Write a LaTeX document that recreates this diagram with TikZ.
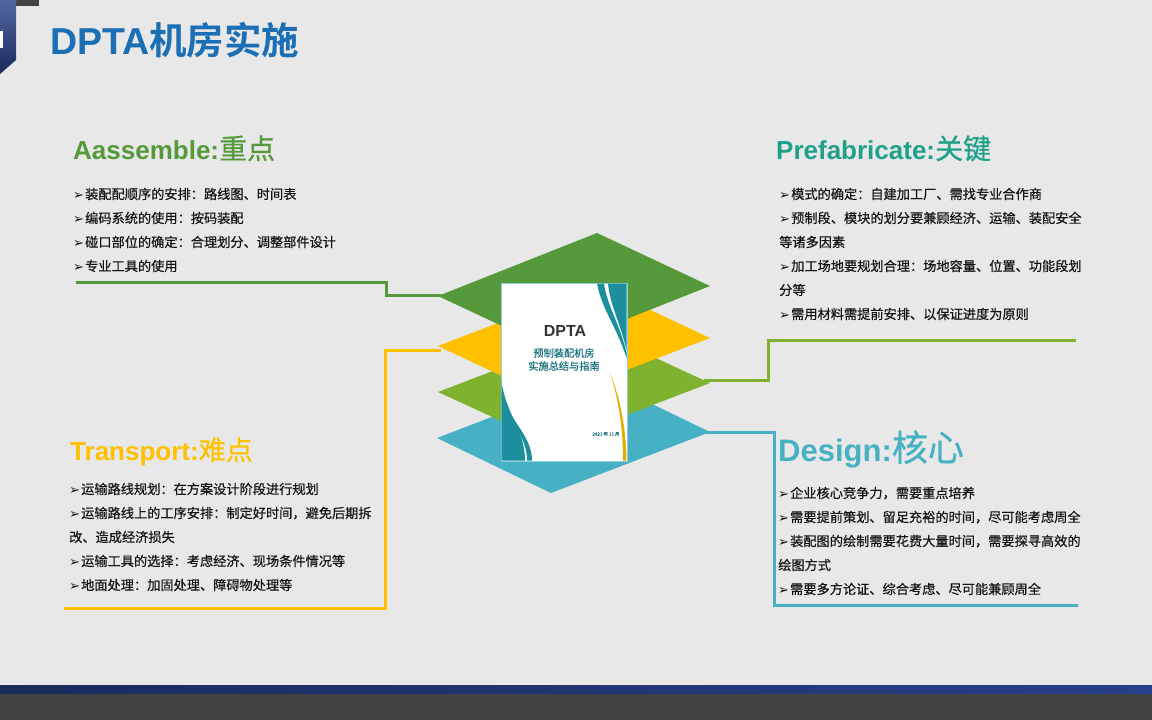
\documentclass[tikz,border=0pt]{standalone}
\usepackage{fontspec}
\usepackage{xcolor}
\setmainfont{Noto Sans CJK SC}[FakeBold=0.5]
\newfontfamily\headcjk{Noto Sans CJK SC}[FakeBold=0.6]
\newfontfamily\cjkbold{Noto Sans CJK SC}[BoldFont={Noto Sans CJK SC Bold}]
\newfontfamily\latinbold{Liberation Sans Bold}
\newfontfamily\symfont{DejaVu Sans}
\definecolor{pagegray}{HTML}{E8E8E8}
\definecolor{barblue}{HTML}{27408B}
\definecolor{barnavy}{HTML}{1B2A5C}
\definecolor{footgray}{HTML}{434343}
\definecolor{titleblue}{HTML}{1B6FB5}
\definecolor{asmgreen}{HTML}{55993A}
\definecolor{trayellow}{HTML}{FFC000}
\definecolor{limegreen}{HTML}{7FB22E}
\definecolor{dsgteal}{HTML}{46B1C4}
\definecolor{prefteal}{HTML}{1FA08A}
\definecolor{bookteal}{HTML}{1C8E9C}
\newcommand{\mk}{\makebox[12pt][l]{\symfont\fontsize{13}{13}\selectfont ➢}}
\begin{document}
\begin{tikzpicture}[x=1pt,y=-1pt,
  item/.style = {anchor=base west, inner sep=0pt, font=\fontsize{13.2}{13.2}\selectfont, text=black!92},
  headline/.style = {anchor=base west, inner sep=0pt},
  wire/.style = {line width=3pt, line join=miter},
  booktext/.style = {inner sep=0pt, text=bookteal!80!black}]
\useasboundingbox (0,0) rectangle (1152,720);
% page
\fill[pagegray] (0,0) rectangle (1152,720);
\fill[footgray] (0,692) rectangle (1152,720);
\shade[left color=barnavy, right color=barblue] (0,685) rectangle (1152,693);
\fill[footgray] (16,0) rectangle (39,6);
\shade[top color=barblue!80!white, bottom color=barnavy] (0,0) -- (16,0) -- (16,60) -- (0,74) -- cycle;
\fill[white] (0,31) rectangle (3,48);
% title
\node[headline, text=titleblue] (title) at (50,54) {\latinbold\fontsize{37.5}{37.5}\selectfont DPTA\cjkbold\bfseries\fontsize{37.5}{37.5}\selectfont 机房实施};
% free ends and layer tips
\coordinate (asmend) at (76,282);
\coordinate (asmtip) at (441,295);
\coordinate (traend) at (64,608);
\coordinate (tratip) at (441,350);
\coordinate (preend) at (1076,340);
\coordinate (pretip) at (704,380);
\coordinate (dsgend) at (1078,605);
\coordinate (dsgtip) at (706,432);
% connectors
\draw[wire, asmgreen] (asmend) -- (386,282) -- (386,295) -- (asmtip);
\draw[wire, trayellow] (traend) -- (385,608) -- (385,350) -- (tratip);
\draw[wire, limegreen] (preend) -- (768,340) -- (768,380) -- (pretip);
\draw[wire, dsgteal] (dsgend) -- (774,605) -- (774,432) -- (dsgtip);
% layers
\fill[dsgteal] (437,438) -- (596,377) -- (710,432) -- (551,493) -- cycle;
\fill[limegreen] (438,392) -- (597,331) -- (710,383) -- (551,444) -- cycle;
\fill[trayellow] (438,346) -- (597,285) -- (710,338) -- (551,399) -- cycle;
\fill[asmgreen] (438,296) -- (597,233) -- (710,286) -- (551,349) -- cycle;
% book
\node[draw=dsgteal!60!white, line width=1pt, fill=white, minimum width=126pt, minimum height=178pt, inner sep=0pt] (book) at (564,372) {};
\fill[bookteal] (597,283.5) -- (604,283.5) .. controls (607,305) and (618,320) .. (626.5,352) -- (626.5,358) .. controls (616,325) and (602,310) .. (597,283.5) -- cycle;
\fill[bookteal] (608,283.5) -- (626.5,283.5) -- (626.5,350) .. controls (620,322) and (610,305) .. (608,283.5) -- cycle;
\fill[bookteal] (501.5,381) .. controls (506,415) and (525,430) .. (525,460.5) -- (501.5,460.5) -- cycle;
\fill[bookteal] (501.5,392) .. controls (508,420) and (532,435) .. (532,460.5) -- (527,460.5) .. controls (527,435) and (507,420) .. (501.5,400) -- cycle;
\fill[trayellow!90!black] (610,373) .. controls (621,400) and (626,430) .. (626.5,460.5) -- (623,460.5) .. controls (623,430) and (619,400) .. (610,373) -- cycle;
\node[inner sep=0pt, text=black!80] (booklogo) at (565,331) {\latinbold\fontsize{16}{16}\selectfont DPTA};
\node[booktext, font=\fontsize{10.2}{10.2}\selectfont] (booksub1) at (564,353) {预制装配机房};
\node[booktext, font=\fontsize{10.2}{10.2}\selectfont] (booksub2) at (564,366) {实施总结与指南};
\node[booktext, font=\fontsize{4.5}{4.5}\selectfont] (bookdate) at (606,434) {2021 年 11 月};
% Aassemble
\node[headline, text=asmgreen] (asmhead) at (73,159) {\latinbold\fontsize{26}{26}\selectfont Aassemble:\headcjk\fontsize{28}{28}\selectfont 重点};
\node[item] (asm1) at (73,199) {\mk 装配配顺序的安排：路线图、时间表};
\node[item] (asm2) at (73,223) {\mk 编码系统的使用：按码装配};
\node[item] (asm3) at (73,247) {\mk 碰口部位的确定：合理划分、调整部件设计};
\node[item] (asm4) at (73,271) {\mk 专业工具的使用};
% Transport
\node[headline, text=trayellow] (trahead) at (70,460) {\latinbold\fontsize{26}{26}\selectfont Transport:\headcjk\fontsize{27}{27}\selectfont 难点};
\node[item] (tra1) at (69,494) {\mk 运输路线规划：在方案设计阶段进行规划};
\node[item] (tra2) at (69,518) {\mk 运输路线上的工序安排：制定好时间，避免后期拆};
\node[item] (tra3) at (69,542) {改、造成经济损失};
\node[item] (tra4) at (69,566) {\mk 运输工具的选择：考虑经济、现场条件情况等};
\node[item] (tra5) at (69,590) {\mk 地面处理：加固处理、障碍物处理等};
% Prefabricate
\node[headline, text=prefteal] (prehead) at (776,159) {\latinbold\fontsize{26}{26}\selectfont Prefabricate:\headcjk\fontsize{28}{28}\selectfont 关键};
\node[item] (pre1) at (779,199) {\mk 模式的确定：自建加工厂、需找专业合作商};
\node[item] (pre2) at (779,223) {\mk 预制段、模块的划分要兼顾经济、运输、装配安全};
\node[item] (pre3) at (779,247) {等诸多因素};
\node[item] (pre4) at (779,271) {\mk 加工场地要规划合理：场地容量、位置、功能段划};
\node[item] (pre5) at (779,295) {分等};
\node[item] (pre6) at (779,319) {\mk 需用材料需提前安排、以保证进度为原则};
% Design
\node[headline, text=dsgteal] (dsghead) at (778,461) {\latinbold\fontsize{31}{31}\selectfont Design:\headcjk\fontsize{36}{36}\selectfont 核心};
\node[item] (dsg1) at (778,498) {\mk 企业核心竞争力，需要重点培养};
\node[item] (dsg2) at (778,522) {\mk 需要提前策划、留足充裕的时间，尽可能考虑周全};
\node[item] (dsg3) at (778,546) {\mk 装配图的绘制需要花费大量时间，需要探寻高效的};
\node[item] (dsg4) at (778,570) {绘图方式};
\node[item] (dsg5) at (778,594) {\mk 需要多方论证、综合考虑、尽可能兼顾周全};
\end{tikzpicture}
\end{document}
